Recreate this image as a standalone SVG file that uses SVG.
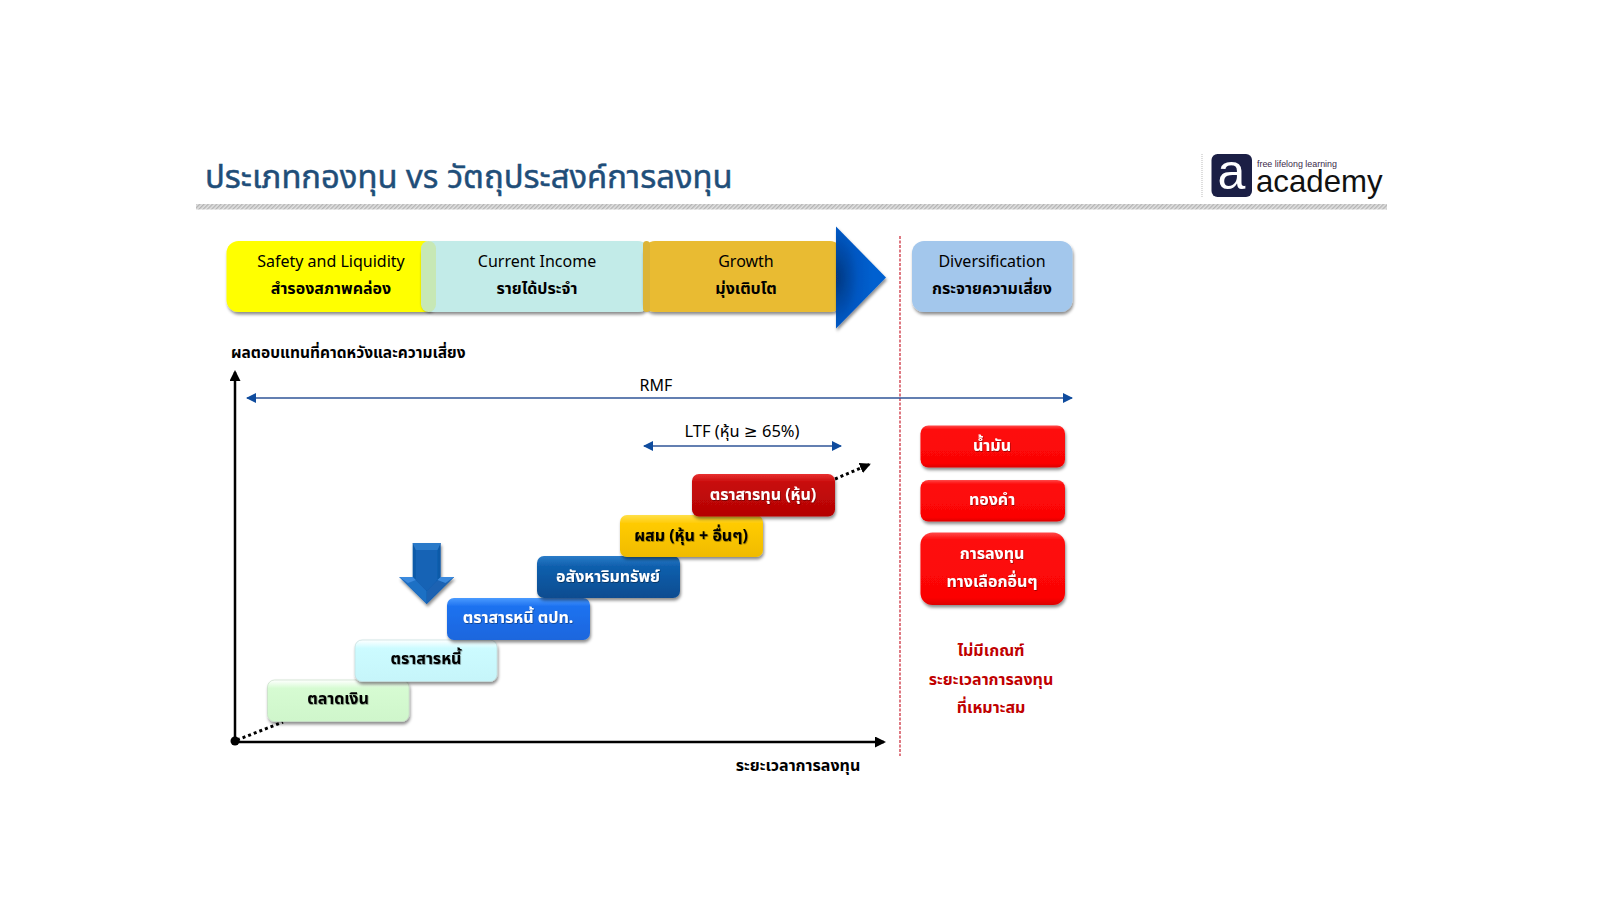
<svg xmlns="http://www.w3.org/2000/svg" width="1600" height="900" viewBox="0 0 1600 900">
<style>
text{font-family:"Noto Sans","Noto Sans Thai","DejaVu Sans","Liberation Sans",sans-serif;text-anchor:middle;font-size:16px;fill:#000}
.b{font-weight:bold}
.w{fill:#fff}
.t{filter:url(#ts)}
.s{filter:url(#sh)}
.ax{stroke:#000;stroke-width:2.500;fill:none}
.bl{stroke:#2f5597;stroke-width:1.600;fill:none;marker-start:url(#bs);marker-end:url(#be)}
.dot{stroke:#000;stroke-width:3;stroke-dasharray:3 3;fill:none}
</style>
<defs>
<filter id="sh" x="-10%" y="-10%" width="120%" height="130%"><feDropShadow dx="1" dy="2.500" stdDeviation="1.800" flood-color="#000" flood-opacity=".45"/></filter>
<filter id="ts" x="-5%" y="-15%" width="110%" height="130%"><feDropShadow dx=".6" dy=".8" stdDeviation=".6" flood-color="#000" flood-opacity=".45"/></filter>
<pattern id="hatch" width="3" height="3" patternUnits="userSpaceOnUse" patternTransform="rotate(-45)"><rect width="3" height="3" fill="#e2e2e2"/><rect width="3" height="1.400" fill="#b4b4b4"/></pattern>
<marker id="be" markerWidth="10" markerHeight="10" refX="9" refY="5" orient="auto" markerUnits="userSpaceOnUse"><path d="M0 0L10 5L0 10z" fill="#0f4c9e"/></marker>
<marker id="bs" markerWidth="10" markerHeight="10" refX="1" refY="5" orient="auto" markerUnits="userSpaceOnUse"><path d="M10 0L0 5L10 10z" fill="#0f4c9e"/></marker>
<marker id="k" markerWidth="11" markerHeight="11" refX="9" refY="5.500" orient="auto" markerUnits="userSpaceOnUse"><path d="M0 0L11 5.500L0 11z" fill="#000"/></marker>
<radialGradient id="tri" cx="0" cy=".5" r=".75"><stop offset="0" stop-color="#07377f"/><stop offset=".6" stop-color="#0057c2"/><stop offset="1" stop-color="#0060d0"/></radialGradient>
<linearGradient id="gGreen" x1="0" y1="0" x2="0" y2="1"><stop offset="0" stop-color="#fff"/><stop offset=".2" stop-color="#d6fbd2"/><stop offset="1" stop-color="#cff6cb"/></linearGradient>
<linearGradient id="gCyan" x1="0" y1="0" x2="0" y2="1"><stop offset="0" stop-color="#fff"/><stop offset=".2" stop-color="#ccfbff"/><stop offset="1" stop-color="#c6f5fa"/></linearGradient>
<linearGradient id="gBlue" x1="0" y1="0" x2="0" y2="1"><stop offset="0" stop-color="#4a9bff"/><stop offset=".2" stop-color="#1f72f0"/><stop offset="1" stop-color="#1a66dd"/></linearGradient>
<linearGradient id="gNavy" x1="0" y1="0" x2="0" y2="1"><stop offset="0" stop-color="#2b7cc8"/><stop offset=".25" stop-color="#0f5fad"/><stop offset="1" stop-color="#0c4c90"/></linearGradient>
<linearGradient id="gGold" x1="0" y1="0" x2="0" y2="1"><stop offset="0" stop-color="#ffe04a"/><stop offset=".2" stop-color="#ffcb05"/><stop offset="1" stop-color="#f0bb00"/></linearGradient>
<linearGradient id="gDark" x1="0" y1="0" x2="0" y2="1"><stop offset="0" stop-color="#e83030"/><stop offset=".2" stop-color="#c80a0a"/><stop offset="1" stop-color="#b40404"/></linearGradient>
<linearGradient id="gRed" x1="0" y1="0" x2="0" y2="1"><stop offset="0" stop-color="#ff4a4a"/><stop offset=".1" stop-color="#fe0a0a"/><stop offset=".9" stop-color="#fb0505"/><stop offset="1" stop-color="#d00"/></linearGradient>
</defs>
<rect width="1600" height="900" fill="#fff"/>
<text id="title" x="205" y="188" style="text-anchor:start;font-size:32.800px;fill:#1f4e79;stroke:#1f4e79;stroke-width:.5">ประเภทกองทุน vs วัตถุประสงค์การลงทุน</text>
<rect id="rule" x="196" y="204" width="1191" height="5.500" fill="url(#hatch)"/>
<g id="logo">
<line x1="1202" y1="154" x2="1202" y2="197" stroke="#bbb" stroke-dasharray="1 1"/>
<rect x="1211.500" y="154" width="40.500" height="43" rx="6" fill="#1b1f45"/>
<text x="1231.500" y="189" style="font-family:'Liberation Sans';font-size:50px;fill:#fff">a</text>
<text x="1257" y="166.500" style="text-anchor:start;font-family:'Liberation Sans';font-size:8.900px;fill:#3a2a4a">free lifelong learning</text>
<text x="1256" y="192" style="text-anchor:start;font-family:'Liberation Sans';font-size:31.200px;fill:#111">academy</text>
</g>
<g id="safety"><rect class="s" x="226.500" y="241" width="209.500" height="71" rx="12" fill="#ffff00"/><text x="331" y="267">Safety and Liquidity</text><text x="331" y="294" class="b">สำรองสภาพคล่อง</text></g>
<g id="income"><rect class="s" x="421" y="241" width="229" height="71" rx="12" fill="#c2ebe8"/><rect x="421" y="241" width="15" height="71" rx="7.500" fill="#c7e8b5"/><text x="537" y="267">Current Income</text><text x="537" y="294" class="b">รายได้ประจำ</text></g>
<g id="growth"><rect class="s" x="643" y="241" width="199" height="71" rx="12" fill="#e9bb33"/><rect x="643" y="241" width="7" height="71" rx="3.500" fill="#dcb437"/><text x="746" y="267">Growth</text><text x="746" y="294" class="b">มุ่งเติบโต</text></g>
<polygon id="bigarrow" class="s" points="836,226.500 886,277.500 836,328.500" fill="url(#tri)"/>
<g id="diversification"><rect class="s" x="912" y="241" width="160.500" height="71" rx="12" fill="#a3c7ec"/><text x="992" y="267">Diversification</text><text x="992" y="294" class="b">กระจายความเสี่ยง</text></g>
<text id="ylabel" x="231" y="358" class="b" style="text-anchor:start;font-size:15.500px">ผลตอบแทนที่คาดหวังและความเสี่ยง</text>
<text id="xlabel" x="798" y="771" class="b">ระยะเวลาการลงทุน</text>
<g id="connectors">
<line x1="900" y1="236" x2="900" y2="756" stroke="#c8202f" stroke-width="1.200" stroke-dasharray="3 1.500"/>
<line class="ax" x1="235" y1="741" x2="235" y2="372" marker-end="url(#k)"/>
<line class="ax" x1="235" y1="742" x2="884" y2="742" marker-end="url(#k)"/>
<circle cx="235" cy="741" r="4.500" fill="#000"/>
<line class="dot" x1="237" y1="740" x2="283" y2="722"/>
<line class="dot" x1="835" y1="479" x2="869" y2="464.500" marker-end="url(#k)"/>
<line class="bl" x1="247" y1="398" x2="1072" y2="398"/>
<line class="bl" x1="644" y1="446" x2="841" y2="446"/>
</g>
<text id="rmf" x="656" y="391">RMF</text>
<text id="ltf" x="742" y="437" style="font-size:16.500px">LTF (หุ้น ≥ 65%)</text>
<g id="downarrow" class="s">
<polygon points="412.700,543 440.700,543 440.700,577 454,577 426.700,604 399.300,577 412.700,577" fill="#0e5aa8"/>
<polygon points="412.700,543 440.700,543 437.500,550 415.800,550" fill="#2c7ac9"/>
<polygon points="399.300,577 412.700,577 415.800,580 426.700,591 426.700,604" fill="#1f6fc4"/>
<polygon points="454,577 440.700,577 437.500,580 426.700,591 426.700,604" fill="#1a62b2"/>
<polygon points="399.300,577 412.700,577 415.800,580 408,583" fill="#3b8ade"/>
<polygon points="454,577 440.700,577 437.500,580 445.500,583" fill="#3b8ade"/>
<polygon points="415.800,550 437.500,550 437.500,580 426.700,591 415.800,580" fill="#1363b5"/>
</g>
<g id="money"><rect class="s" x="267.500" y="680" width="141.500" height="41.500" rx="7" fill="url(#gGreen)" stroke="#c5dcc5" stroke-width=".7"/><text x="338" y="704" class="b t">ตลาดเงิน</text></g>
<g id="bond"><rect class="s" x="355" y="640" width="142" height="41.500" rx="7" fill="url(#gCyan)" stroke="#c2dcdc" stroke-width=".7"/><text x="426" y="664" class="b t">ตราสารหนี้</text></g>
<g id="fbond"><rect class="s" x="447" y="598" width="143" height="42" rx="7" fill="url(#gBlue)"/><text x="518" y="623" class="b w t">ตราสารหนี้ ตปท.</text></g>
<g id="reit"><rect class="s" x="537" y="556" width="143" height="42" rx="7" fill="url(#gNavy)"/><text x="608" y="582" class="b w t">อสังหาริมทรัพย์</text></g>
<g id="mixed"><rect class="s" x="620" y="515" width="143" height="42" rx="7" fill="url(#gGold)"/><text x="691" y="541" class="b t">ผสม (หุ้น + อื่นๆ)</text></g>
<g id="equity"><rect class="s" x="692" y="474" width="143" height="42.500" rx="7" fill="url(#gDark)"/><text x="763" y="500" class="b w t">ตราสารทุน (หุ้น)</text></g>
<g id="oil"><rect class="s" x="920.500" y="425.500" width="144.500" height="42" rx="8" fill="url(#gRed)"/><text x="992" y="451" class="b w t">น้ำมัน</text></g>
<g id="gold"><rect class="s" x="920.500" y="480" width="144.500" height="41.500" rx="8" fill="url(#gRed)"/><text x="992" y="505" class="b w t">ทองคำ</text></g>
<g id="alt"><rect class="s" x="920.500" y="532.500" width="144.500" height="72.500" rx="12" fill="url(#gRed)"/><text x="992" y="559" class="b w t">การลงทุน</text><text x="992" y="587" class="b w t">ทางเลือกอื่นๆ</text></g>
<g id="note" class="b"><text x="991" y="656" style="fill:#c00000">ไม่มีเกณฑ์</text><text x="991" y="685" style="fill:#c00000">ระยะเวลาการลงทุน</text><text x="991" y="713" style="fill:#c00000">ที่เหมาะสม</text></g>
</svg>
